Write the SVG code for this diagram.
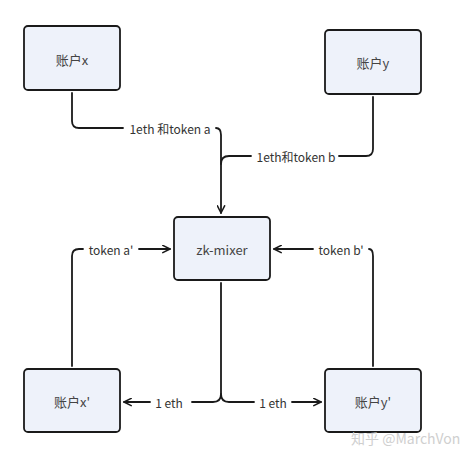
<svg xmlns="http://www.w3.org/2000/svg" width="474" height="460" viewBox="0 0 474 460">
<style>
.box{fill:#eef2fa;stroke:#1a1a1a;stroke-width:1.8}
.nt{font-family:"Noto Sans CJK SC","Noto Sans",sans-serif;font-size:13px;fill:#444;text-anchor:middle;dominant-baseline:central}
.lb{font-family:"Noto Sans CJK SC","Noto Sans",sans-serif;font-size:12px;fill:#333;text-anchor:middle;dominant-baseline:central}
.ln{fill:none;stroke:#1a1a1a;stroke-width:1.8;stroke-linecap:round;stroke-linejoin:round}
.wm{font-family:"Noto Sans CJK SC","Noto Sans",sans-serif;font-size:14px;fill:#cfcfcf;dominant-baseline:central}
</style>
<defs>
<marker id="arr" viewBox="0 0 10 10" refX="9" refY="5" markerWidth="9" markerHeight="9" markerUnits="userSpaceOnUse" orient="auto">
<path d="M1,1 L9,5 L1,9" fill="none" stroke="#1a1a1a" stroke-width="1.7" stroke-linecap="round" stroke-linejoin="round"/>
</marker>
</defs>
<rect width="474" height="460" fill="#ffffff"/>
<g id="connectors">
<path class="ln" d="M72,93 V121 Q72,128 79,128 H123"/>
<path class="ln" d="M216,128 Q221,128 221,135 V213" marker-end="url(#arr)"/>
<path class="ln" d="M373,97 V149 Q373,156 366,156 H339"/>
<path class="ln" d="M251,156 H229 Q221,156 221,164"/>
<path class="ln" d="M72,366 V256 Q72,249 79,249 H83"/>
<path class="ln" d="M139,249 H170" marker-end="url(#arr)"/>
<path class="ln" d="M373,366 V256 Q373,249 369,249"/>
<path class="ln" d="M313,249 H274" marker-end="url(#arr)"/>
<path class="ln" d="M221,283 V394 Q221,402 213,402 H192"/>
<path class="ln" d="M221,394 Q221,402 229,402 H254"/>
<path class="ln" d="M150,402 H124" marker-end="url(#arr)"/>
<path class="ln" d="M292,402 H321" marker-end="url(#arr)"/>
<text class="lb" x="170" y="128">1eth 和token a</text>
<text class="lb" x="296" y="156">1eth和token b</text>
<text class="lb" x="111" y="249">token a'</text>
<text class="lb" x="341" y="249">token b'</text>
<text class="lb" x="169" y="402">1 eth</text>
<text class="lb" x="273" y="402">1 eth</text>
</g>
<g id="node-x">
<rect class="box" x="24" y="26" width="96" height="64" rx="4"/>
<text class="nt" x="72" y="59">账户x</text>
</g>
<g id="node-y">
<rect class="box" x="325" y="30" width="96" height="64" rx="4"/>
<text class="nt" x="373" y="62">账户y</text>
</g>
<g id="node-mixer">
<rect class="box" x="174" y="217" width="96" height="63" rx="4"/>
<text class="nt" x="222" y="249">zk-mixer</text>
</g>
<g id="node-x2">
<rect class="box" x="24" y="369" width="96" height="63" rx="4"/>
<text class="nt" x="72" y="401">账户x'</text>
</g>
<g id="node-y2">
<rect class="box" x="325" y="369" width="96" height="63" rx="4"/>
<text class="nt" x="373" y="401">账户y'</text>
</g>
<text class="wm" x="351" y="438">知乎 @MarchVon</text>
</svg>
